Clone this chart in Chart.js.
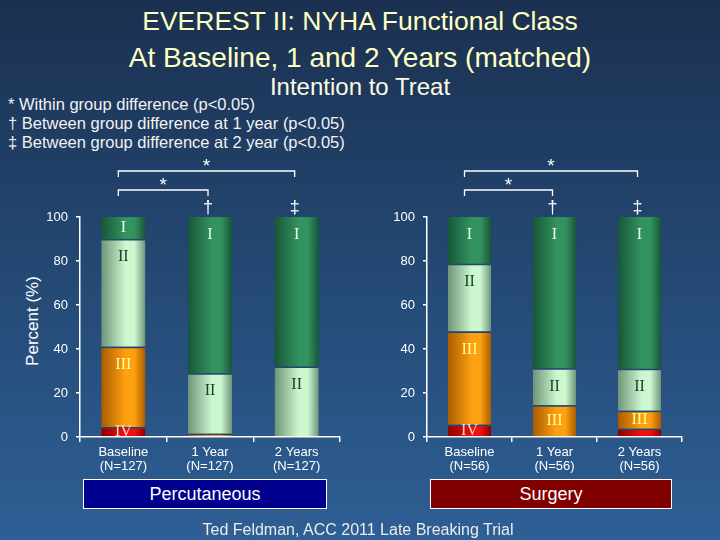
<!DOCTYPE html>
<html>
<head>
<meta charset="utf-8">
<script src="https://cdn.jsdelivr.net/npm/chart.js@4"></script>
<style>
  html, body { margin: 0; padding: 0; }
  body {
    width: 720px; height: 540px; position: relative; overflow: hidden;
    background: linear-gradient(to bottom, #1b3050 0%, #234670 45%, #2e5f95 100%);
    font-family: "Liberation Sans", Arial, sans-serif;
  }
  canvas { position: absolute; left: 0; top: 0; }
  .t { position: absolute; white-space: nowrap; }
  .title { left: 0; width: 720px; text-align: center; color: #ffffc4; font-size: 27px; }
  .note { left: 8px; color: #f2f2f2; font-size: 16.5px; }
  .box { position: absolute; height: 28px; border: 1px solid #fff; color: #fff;
         font-size: 18px; text-align: center; line-height: 28px; }
  #ylab { left: 33px; top: 321px; color: #fff; font-size: 17px;
          transform: translate(-50%, -50%) rotate(-90deg); }
</style>
</head>
<body>
<div class="t title" style="top:6px;font-size:26.5px">EVEREST II: NYHA Functional Class</div>
<div class="t title" style="top:42px;font-size:28px">At Baseline, 1 and 2 Years (matched)</div>
<div class="t title" style="top:73px;font-size:24px;color:#fbfbe6">Intention to Treat</div>
<div class="t note" style="top:95px">* Within group difference (p&lt;0.05)</div>
<div class="t note" style="top:114px">† Between group difference at 1 year (p&lt;0.05)</div>
<div class="t note" style="top:133px">‡ Between group difference at 2 year (p&lt;0.05)</div>
<div class="t" id="ylab">Percent (%)</div>

<canvas id="percChart" width="720" height="540"></canvas>
<canvas id="surgChart" width="720" height="540"></canvas>

<div class="box" style="left:83px;top:479px;width:242px;background:#00008c">Percutaneous</div>
<div class="box" style="left:430px;top:479px;width:240px;background:#800000">Surgery</div>
<div class="t" style="left:0;width:716px;text-align:center;top:521px;color:#ececec;font-size:16px">Ted Feldman, ACC 2011 Late Breaking Trial</div>

<script>
const PERC_LABELS = [['Baseline', '(N=127)'], ['1 Year', '(N=127)'], ['2 Years', '(N=127)']];
const SURG_LABELS = [['Baseline', '(N=56)'], ['1 Year', '(N=56)'], ['2 Years', '(N=56)']];
const Y_TICKS = [0, 20, 40, 60, 80, 100];

// NYHA class shares (%), bottom to top: IV, III, II, I
const PERC_IV = [4.5, 0, 0];
const PERC_III = [36.5, 1.5, 0.5];
const PERC_II = [49, 27.5, 31.5];
const PERC_I = [10, 71, 68];

const SURG_IV = [5.6, 0, 3.8];
const SURG_III = [42.3, 14.4, 8.1];
const SURG_II = [30.8, 16.8, 19.1];
const SURG_I = [21.3, 68.8, 69];

const CLASSES = [
    { name: 'IV', dark: '#8c0000', light: '#f01010', text: '#ffd0c0' },
    { name: 'III', dark: '#a85c00', light: '#ffa010', text: '#ffff99' },
    { name: 'II', dark: '#6e9478', light: '#cdf7cf', text: '#163f26' },
    { name: 'I', dark: '#17563a', light: '#33935f', text: '#e8ffe8' },
];

const BAR_PCT = 0.51;
const FONT = '"Liberation Sans", Arial, sans-serif';

function cylinder(cls) {
    return (ctx) => {
        const chart = ctx.chart;
        const xs = chart.scales.x;
        if (!chart.chartArea || !xs) return cls.light;
        const x = xs.getPixelForValue(ctx.dataIndex);
        const half = (chart.chartArea.width / 3) * BAR_PCT / 2;
        const g = chart.ctx.createLinearGradient(x - half, 0, x + half, 0);
        g.addColorStop(0, cls.dark);
        g.addColorStop(0.55, cls.light);
        g.addColorStop(0.75, cls.light);
        g.addColorStop(1, cls.dark);
        return g;
    };
}

// roman numerals on the segments
const segmentLabels = {
    id: 'segmentLabels',
    afterDatasetsDraw(chart) {
        const c = chart.ctx;
        c.save();
        c.font = '16px "Liberation Serif", "Times New Roman", serif';
        c.textAlign = 'center';
        c.textBaseline = 'middle';
        chart.data.datasets.forEach((ds, di) => {
            const meta = chart.getDatasetMeta(di);
            meta.data.forEach((bar, i) => {
                if (ds.data[i] < 4.2) return;
                const { x, y, base } = bar.getProps(['x', 'y', 'base'], true);
                const ly = Math.min((y + base) / 2, y + 18);
                c.fillStyle = CLASSES[di].text;
                c.fillText(CLASSES[di].name, x, ly);
            });
        });
        c.restore();
    },
};

// significance brackets and symbols
const sigMarks = {
    id: 'sigMarks',
    afterDraw(chart) {
        const c = chart.ctx;
        const xs = chart.scales.x;
        const top = chart.chartArea.top;
        const x0 = xs.getPixelForValue(0) - 5;
        const x1 = xs.getPixelForValue(1) - 2;
        const x2 = xs.getPixelForValue(2) - 2;
        c.save();
        c.strokeStyle = '#fff';
        c.fillStyle = '#fff';
        c.lineWidth = 1.3;
        c.textAlign = 'center';
        c.textBaseline = 'middle';
        const bracket = (a, b, y) => {
            c.beginPath();
            c.moveTo(a, y + 6); c.lineTo(a, y); c.lineTo(b, y); c.lineTo(b, y + 6);
            c.stroke();
            c.font = '19px ' + FONT;
            c.fillText('*', (a + b) / 2, y - 4);
        };
        bracket(x0, x2, top - 46);
        bracket(x0, x1, top - 27);
        c.font = '18px ' + FONT;
        c.fillText('†', x1, top - 9);
        c.fillText('‡', x2, top - 9);
        c.restore();
    },
};

function makeChart(el, labels, series, padLeft, padRight) {
    const datasets = series.map((data, k) => ({
        label: CLASSES[k].name,
        data,
        backgroundColor: cylinder(CLASSES[k]),
        // thin dark seam between stacked segments
        borderColor: '#24466e',
        borderWidth: k < 3 ? { top: 1.5, left: 0, right: 0, bottom: 0 } : 0,
        borderSkipped: false,
        barPercentage: BAR_PCT,
        categoryPercentage: 1,
    }));
    return new Chart(el, {
        type: 'bar',
        data: { labels, datasets },
        options: {
            responsive: false,
            animation: false,
            layout: { padding: { left: padLeft, right: padRight, top: 217, bottom: 63 } },
            plugins: { legend: { display: false }, tooltip: { enabled: false } },
            scales: {
                x: {
                    stacked: true,
                    afterFit: s => { s.height = 40; },
                    border: { color: '#fff', width: 1.5 },
                    grid: { drawOnChartArea: false, color: '#fff', tickLength: 5, lineWidth: 1.5 },
                    ticks: { color: '#fff', padding: 3, font: { family: FONT, size: 13, lineHeight: 1.1 } },
                },
                y: {
                    stacked: true,
                    min: 0,
                    max: 100,
                    afterFit: s => { s.width = 40; },
                    afterBuildTicks: s => { s.ticks = Y_TICKS.map(v => ({ value: v })); },
                    border: { color: '#fff', width: 1.5 },
                    grid: { drawOnChartArea: false, color: '#fff', tickLength: 4, lineWidth: 1.5 },
                    ticks: { color: '#fff', padding: 8, font: { family: FONT, size: 13 } },
                },
            },
        },
        plugins: [segmentLabels, sigMarks],
    });
}

makeChart(document.getElementById('percChart'), PERC_LABELS,
    [PERC_IV, PERC_III, PERC_II, PERC_I], 40, 380);
makeChart(document.getElementById('surgChart'), SURG_LABELS,
    [SURG_IV, SURG_III, SURG_II, SURG_I], 387, 38);
</script>
</body>
</html>
